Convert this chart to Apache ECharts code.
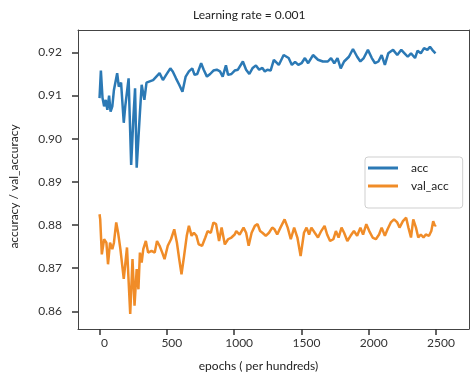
<!DOCTYPE html>
<html>
<head>
<meta charset="utf-8">
<script src="https://cdn.jsdelivr.net/npm/echarts@6/dist/echarts.min.js"></script>
<style>
  html, body { margin: 0; padding: 0; background: #fff; }
  #chart { width: 474px; height: 377px; }
</style>
</head>
<body>
<div id="chart"></div>
<script>
// training accuracy (acc)
var accEpochs = [0, 10, 22, 34, 46, 58, 71, 82, 95, 107, 131, 143, 160, 180, 191, 216, 235, 252, 264, 276,
	300, 313, 333, 349, 373, 398, 422, 446, 471, 495, 526, 544, 568, 592, 616, 640, 664, 689, 706, 726,
	755, 774, 798, 822, 846, 871, 895, 915, 939, 955, 980, 1004, 1028, 1065, 1089, 1113, 1138, 1162, 1186, 1210,
	1228, 1247, 1271, 1295, 1332, 1368, 1405, 1429, 1453, 1477, 1501, 1526, 1550, 1586, 1623, 1659, 1696, 1720, 1744, 1768,
	1792, 1817, 1853, 1883, 1914, 1938, 1963, 1994, 2023, 2047, 2072, 2096, 2120, 2145, 2181, 2212, 2242, 2266, 2290, 2314,
	2344, 2363, 2387, 2411, 2436, 2455, 2472, 2496];
var accValues = [0.9094, 0.9158, 0.9095, 0.9075, 0.9090, 0.9067, 0.9100, 0.9063, 0.9075, 0.9113, 0.9152, 0.9121, 0.9130, 0.9037, 0.9075, 0.9140, 0.8939, 0.9052, 0.9117, 0.8933,
	0.9060, 0.9125, 0.9090, 0.9130, 0.9133, 0.9136, 0.9144, 0.9152, 0.9136, 0.9148, 0.9163, 0.9156, 0.9140, 0.9125, 0.9109, 0.9144, 0.9156, 0.9163, 0.9148, 0.9150,
	0.9175, 0.9160, 0.9144, 0.9150, 0.9158, 0.9160, 0.9156, 0.9144, 0.9170, 0.9148, 0.9150, 0.9158, 0.9160, 0.9179, 0.9160, 0.9150, 0.9164, 0.9170, 0.9160, 0.9164,
	0.9156, 0.9160, 0.9158, 0.9183, 0.9171, 0.9194, 0.9187, 0.9171, 0.9178, 0.9171, 0.9175, 0.9187, 0.9175, 0.9194, 0.9183, 0.9179, 0.9179, 0.9187, 0.9175, 0.9187,
	0.9163, 0.9179, 0.9190, 0.9208, 0.9190, 0.9179, 0.9187, 0.9206, 0.9187, 0.9175, 0.9179, 0.9194, 0.9171, 0.9198, 0.9206, 0.9194, 0.9206, 0.9198, 0.9190, 0.9198,
	0.9187, 0.9204, 0.9198, 0.9210, 0.9206, 0.9213, 0.9206, 0.9198];

// validation accuracy (val_acc)
var valEpochs = [0, 5, 17, 34, 51, 63, 78, 95, 107, 124, 138, 155, 180, 204, 228, 245, 260, 276, 289, 300,
	313, 325, 344, 361, 386, 410, 427, 446, 466, 483, 507, 531, 555, 575, 592, 609, 628, 648, 664, 684,
	701, 720, 737, 762, 786, 803, 827, 846, 866, 888, 907, 931, 955, 980, 1004, 1016, 1041, 1070, 1089, 1108,
	1130, 1154, 1174, 1193, 1210, 1235, 1259, 1283, 1300, 1320, 1344, 1375, 1398, 1421, 1446, 1470, 1494, 1519, 1538, 1557,
	1574, 1599, 1623, 1647, 1672, 1691, 1713, 1737, 1756, 1776, 1798, 1817, 1841, 1865, 1890, 1914, 1938, 1958, 1982, 2004,
	2029, 2053, 2077, 2096, 2120, 2140, 2164, 2188, 2212, 2229, 2254, 2278, 2295, 2314, 2331, 2351, 2368, 2387, 2407, 2424,
	2448, 2465, 2479, 2492, 2500];
var valValues = [0.8825, 0.8813, 0.8732, 0.8767, 0.8759, 0.8709, 0.8759, 0.8744, 0.8759, 0.8806, 0.8782, 0.8744, 0.8675, 0.8748, 0.8594, 0.8721, 0.8613, 0.8698, 0.8651, 0.8736,
	0.8713, 0.8744, 0.8763, 0.8736, 0.8740, 0.8736, 0.8763, 0.8752, 0.8736, 0.8721, 0.8752, 0.8767, 0.8790, 0.8759, 0.8721, 0.8686, 0.8728, 0.8775, 0.8798, 0.8775,
	0.8782, 0.8775, 0.8755, 0.8752, 0.8771, 0.8786, 0.8782, 0.8806, 0.8802, 0.8763, 0.8794, 0.8755, 0.8767, 0.8771, 0.8778, 0.8786, 0.8778, 0.8794, 0.8782, 0.8752,
	0.8782, 0.8798, 0.8802, 0.8786, 0.8782, 0.8775, 0.8782, 0.8794, 0.8790, 0.8778, 0.8794, 0.8813, 0.8794, 0.8767, 0.8794, 0.8771, 0.8728, 0.8782, 0.8794, 0.8778,
	0.8794, 0.8782, 0.8771, 0.8786, 0.8798, 0.8778, 0.8763, 0.8767, 0.8786, 0.8771, 0.8794, 0.8782, 0.8763, 0.8775, 0.8786, 0.8775, 0.8794, 0.8778, 0.8802, 0.8786,
	0.8771, 0.8767, 0.8778, 0.8794, 0.8775, 0.8790, 0.8806, 0.8813, 0.8806, 0.8794, 0.8809, 0.8817, 0.8794, 0.8771, 0.8813, 0.8794, 0.8771, 0.8778, 0.8771, 0.8778,
	0.8775, 0.8786, 0.8809, 0.8798, 0.8800];

var xTicks = [0, 500, 1000, 1500, 2000, 2500];
var yTicks = [0.86, 0.87, 0.88, 0.89, 0.90, 0.91, 0.92];
var X_MIN = -160, X_MAX = 2745;
var Y_MIN = 0.8559, Y_MAX = 0.9252;

function pairs(xs, ys) {
	var out = [];
	for (var i = 0; i < xs.length; i++) {
		out.push([xs[i], ys[i]]);
	}
	return out;
}

var FONT = 'Lato';
var FRAME = '#444';
var chart = echarts.init(document.getElementById('chart'));

// top / right axes only draw the frame lines
var frameAxis = {
	axisLine: { show: true, onZero: false, lineStyle: { color: FRAME, width: 1 } },
	axisTick: { show: false },
	axisLabel: { show: false },
	splitLine: { show: false }
};

var option = {
	animation: false,
	backgroundColor: '#fff',
	title: {
		text: 'Learning rate = 0.001',
		left: 188,
		top: 4,
		textStyle: { fontFamily: FONT, fontSize: 12, fontWeight: 'normal', color: '#222' }
	},
	legend: {
		orient: 'vertical',
		left: 365,
		top: 157,
		icon: 'rect',
		itemWidth: 30,
		itemHeight: 3,
		itemGap: 6,
		padding: [5, 14, 16, 3],
		borderColor: '#cfcfcf',
		borderWidth: 1,
		borderRadius: 3,
		textStyle: { fontFamily: FONT, fontSize: 12, color: '#222', padding: [0, 0, 0, 8] },
		data: ['acc', 'val_acc']
	},
	grid: { left: 70, top: 30, right: 5, bottom: 47 },
	xAxis: [
		{
			type: 'value',
			position: 'bottom',
			min: X_MIN,
			max: X_MAX,
			name: 'epochs ( per hundreds)',
			nameLocation: 'middle',
			nameGap: 31,
			nameTextStyle: { fontFamily: FONT, fontSize: 12, color: '#222', padding: [0, 30, 0, 0] },
			axisLine: { show: true, onZero: false, lineStyle: { color: FRAME, width: 1 } },
			axisTick: { show: true, length: 6, customValues: xTicks, lineStyle: { color: '#333', width: 1.5 } },
			axisLabel: {
				customValues: xTicks,
				margin: 8,
				fontFamily: FONT, fontSize: 12, color: '#333',
				padding: [0, 0, 0, 10],
				formatter: function (v) { return String(v); }
			},
			splitLine: { show: false }
		},
		Object.assign({ type: 'value', position: 'top', min: X_MIN, max: X_MAX }, frameAxis)
	],
	yAxis: [
		{
			type: 'value',
			position: 'left',
			min: Y_MIN,
			max: Y_MAX,
			name: 'accuracy / val_accuracy',
			nameLocation: 'middle',
			nameGap: 58,
			nameTextStyle: { fontFamily: FONT, fontSize: 12, color: '#222', padding: [0, 0, 0, -14] },
			axisLine: { show: true, onZero: false, lineStyle: { color: FRAME, width: 1 } },
			axisTick: { show: true, length: 6, customValues: yTicks, lineStyle: { color: '#333', width: 1.5 } },
			axisLabel: {
				customValues: yTicks,
				margin: 16,
				fontFamily: FONT, fontSize: 12, color: '#333',
				formatter: function (v) { return v.toFixed(2); }
			},
			splitLine: { show: false }
		},
		Object.assign({ type: 'value', position: 'right', min: Y_MIN, max: Y_MAX }, frameAxis)
	],
	series: [
		{
			name: 'acc',
			type: 'line',
			showSymbol: false,
			color: '#2b79b5',
			lineStyle: { width: 2.5, color: '#2b79b5' },
			data: pairs(accEpochs, accValues)
		},
		{
			name: 'val_acc',
			type: 'line',
			showSymbol: false,
			color: '#f08c28',
			lineStyle: { width: 2.5, color: '#f08c28' },
			data: pairs(valEpochs, valValues)
		}
	]
};

chart.setOption(option);
</script>
</body>
</html>
